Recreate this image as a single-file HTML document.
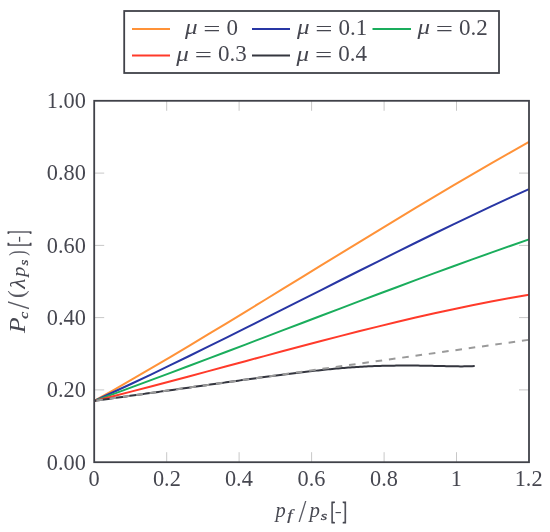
<!DOCTYPE html>
<html><head><meta charset="utf-8"><style>
html,body{margin:0;padding:0;background:#fff;width:550px;height:532px;overflow:hidden}
svg{display:block}
text{font-family:"Liberation Serif",serif;font-size:23px;fill:#464750}
.i{font-style:italic}
</style></head><body>
<svg width="550" height="532" viewBox="0 0 550 532">
<g stroke="#c8c8c8" stroke-width="1">
<line x1="94.2" y1="389.9" x2="104.2" y2="389.9"/>
<line x1="519.0" y1="389.9" x2="529.0" y2="389.9"/>
<line x1="94.2" y1="317.6" x2="104.2" y2="317.6"/>
<line x1="519.0" y1="317.6" x2="529.0" y2="317.6"/>
<line x1="94.2" y1="245.4" x2="104.2" y2="245.4"/>
<line x1="519.0" y1="245.4" x2="529.0" y2="245.4"/>
<line x1="94.2" y1="173.1" x2="104.2" y2="173.1"/>
<line x1="519.0" y1="173.1" x2="529.0" y2="173.1"/>
<line x1="166.7" y1="462.2" x2="166.7" y2="452.2"/>
<line x1="166.7" y1="100.8" x2="166.7" y2="110.8"/>
<line x1="239.1" y1="462.2" x2="239.1" y2="452.2"/>
<line x1="239.1" y1="100.8" x2="239.1" y2="110.8"/>
<line x1="311.6" y1="462.2" x2="311.6" y2="452.2"/>
<line x1="311.6" y1="100.8" x2="311.6" y2="110.8"/>
<line x1="384.1" y1="462.2" x2="384.1" y2="452.2"/>
<line x1="384.1" y1="100.8" x2="384.1" y2="110.8"/>
<line x1="456.5" y1="462.2" x2="456.5" y2="452.2"/>
<line x1="456.5" y1="100.8" x2="456.5" y2="110.8"/>
</g>
<path d="M94.2,400.90 L113.1,390.26 L132.0,379.40 L150.9,368.40 L169.8,357.27 L188.7,346.03 L207.6,334.69 L226.5,323.27 L245.4,311.79 L264.3,300.25 L283.2,288.67 L302.1,277.07 L321.1,265.47 L340.0,253.88 L358.9,242.31 L377.8,230.78 L396.7,219.31 L415.6,207.91 L434.5,196.60 L453.4,185.39 L472.3,174.30 L491.2,163.34 L510.1,152.53 L529.0,141.88" fill="none" stroke="#ff9238" stroke-width="2" stroke-linejoin="round"/>
<path d="M94.2,400.90 L113.1,392.27 L132.0,383.47 L150.9,374.53 L169.8,365.45 L188.7,356.26 L207.6,346.97 L226.5,337.60 L245.4,328.17 L264.3,318.68 L283.2,309.15 L302.1,299.61 L321.1,290.05 L340.0,280.51 L358.9,271.00 L377.8,261.53 L396.7,252.11 L415.6,242.77 L434.5,233.52 L453.4,224.37 L472.3,215.34 L491.2,206.45 L510.1,197.70 L529.0,189.13" fill="none" stroke="#2836a4" stroke-width="2" stroke-linejoin="round"/>
<path d="M94.2,400.90 L113.1,394.07 L132.0,387.15 L150.9,380.17 L169.8,373.13 L188.7,366.05 L207.6,358.92 L226.5,351.76 L245.4,344.58 L264.3,337.38 L283.2,330.17 L302.1,322.96 L321.1,315.76 L340.0,308.58 L358.9,301.42 L377.8,294.29 L396.7,287.20 L415.6,280.17 L434.5,273.18 L453.4,266.27 L472.3,259.42 L491.2,252.66 L510.1,245.98 L529.0,239.41" fill="none" stroke="#1aad5c" stroke-width="2" stroke-linejoin="round"/>
<path d="M94.2,400.90 L113.1,396.22 L132.0,391.40 L150.9,386.49 L169.8,381.51 L188.7,376.47 L207.6,371.40 L226.5,366.30 L245.4,361.19 L264.3,356.10 L283.2,351.02 L302.1,345.99 L321.1,341.02 L340.0,336.12 L358.9,331.32 L377.8,326.61 L396.7,322.04 L415.6,317.59 L434.5,313.31 L453.4,309.19 L472.3,305.27 L491.2,301.54 L510.1,298.03 L529.0,294.76" fill="none" stroke="#ff3a2a" stroke-width="2" stroke-linejoin="round"/>
<path d="M94.2,400.90 L96.2,400.62 L98.2,400.34 L100.2,400.06 L102.2,399.78 L104.2,399.49 L106.2,399.21 L108.2,398.93 L110.2,398.65 L112.2,398.37 L114.2,398.09 L116.2,397.81 L118.2,397.53 L120.2,397.25 L122.2,396.97 L124.2,396.68 L126.2,396.40 L128.2,396.12 L130.2,395.84 L132.2,395.56 L134.2,395.28 L136.2,395.00 L138.2,394.72 L140.2,394.44 L142.2,394.15 L144.2,393.87 L146.2,393.59 L148.2,393.31 L150.2,393.03 L152.2,392.75 L154.2,392.47 L156.2,392.19 L158.2,391.91 L160.2,391.63 L162.2,391.34 L164.2,391.06 L166.2,390.78 L168.2,390.50 L170.2,390.22 L172.2,389.94 L174.2,389.66 L176.2,389.38 L178.2,389.10 L180.2,388.81 L182.2,388.53 L184.2,388.25 L186.2,387.97 L188.2,387.69 L190.2,387.41 L192.2,387.13 L194.2,386.85 L196.2,386.57 L198.2,386.29 L200.2,386.00 L202.2,385.72 L204.2,385.44 L206.2,385.16 L208.2,384.88 L210.2,384.60 L212.2,384.32 L214.2,384.04 L216.2,383.76 L218.2,383.47 L220.2,383.19 L222.2,382.91 L224.2,382.63 L226.2,382.35 L228.2,382.07 L230.2,381.79 L232.2,381.51 L234.2,381.23 L236.2,380.95 L238.2,380.66 L240.2,380.38 L242.2,380.10 L244.2,379.82 L246.2,379.54 L248.2,379.26 L250.2,378.98 L252.2,378.70 L254.2,378.42 L256.2,378.14 L258.2,377.85 L260.2,377.57 L262.2,377.29 L264.2,377.01 L266.2,376.77 L268.2,376.51 L270.2,376.24 L272.2,375.98 L274.2,375.72 L276.2,375.46 L278.2,375.20 L280.2,374.95 L282.2,374.69 L284.2,374.44 L286.2,374.19 L288.2,373.94 L290.2,373.69 L292.2,373.44 L294.2,373.20 L296.2,372.96 L298.2,372.71 L300.2,372.47 L302.2,372.24 L304.2,372.00 L306.2,371.77 L308.2,371.53 L310.2,371.30 L312.2,371.08 L314.2,370.85 L316.2,370.63 L318.2,370.41 L320.2,370.20 L322.2,369.99 L324.2,369.78 L326.2,369.57 L328.2,369.37 L330.2,369.17 L332.2,368.98 L334.2,368.79 L336.2,368.61 L338.2,368.43 L340.2,368.25 L342.2,368.08 L344.2,367.92 L346.2,367.76 L348.2,367.60 L350.2,367.45 L352.2,367.31 L354.2,367.17 L356.2,367.04 L358.2,366.91 L360.2,366.79 L362.2,366.68 L364.2,366.57 L366.2,366.47 L368.2,366.37 L370.2,366.28 L372.2,366.20 L374.2,366.12 L376.2,366.05 L378.2,365.98 L380.2,365.92 L382.2,365.86 L384.2,365.81 L386.2,365.77 L388.2,365.72 L390.2,365.69 L392.2,365.66 L394.2,365.63 L396.2,365.61 L398.2,365.59 L400.2,365.57 L402.2,365.56 L404.2,365.56 L406.2,365.56 L408.2,365.56 L410.2,365.56 L412.2,365.57 L414.2,365.58 L416.2,365.60 L418.2,365.62 L420.2,365.64 L422.2,365.67 L424.2,365.70 L426.2,365.73 L428.2,365.76 L430.2,365.80 L432.2,365.84 L434.2,365.88 L436.2,365.92 L438.2,365.97 L440.2,366.01 L442.2,366.06 L444.2,366.11 L446.2,366.16 L448.2,366.21 L450.2,366.25 L452.2,366.29 L454.2,366.33 L456.2,366.36 L458.2,366.37 L460.2,366.38 L462.2,366.38 L464.2,366.37 L466.2,366.34 L468.2,366.30 L470.2,366.25 L472.2,366.17 L474.2,366.08 L474.7,366.06" fill="none" stroke="#34363f" stroke-width="2" stroke-linejoin="round"/>
<line x1="94.2" y1="400.9" x2="529.0" y2="339.8" stroke="#9a9a9a" stroke-width="2" stroke-dasharray="6.6 6.83" stroke-dashoffset="11.28"/>
<rect x="94.2" y="100.8" width="434.8" height="361.4" fill="none" stroke="#404249" stroke-width="1.8"/>
<text transform="translate(46.81,469.50) scale(0.970,1.020)">0.00</text>
<text transform="translate(46.81,397.22) scale(0.970,1.020)">0.20</text>
<text transform="translate(46.81,324.94) scale(0.970,1.020)">0.40</text>
<text transform="translate(46.81,252.66) scale(0.970,1.020)">0.60</text>
<text transform="translate(46.81,180.38) scale(0.970,1.020)">0.80</text>
<text transform="translate(46.81,108.10) scale(0.970,1.020)">1.00</text>
<text transform="translate(88.62,485.70) scale(0.970,1.020)">0</text>
<text transform="translate(152.91,485.70) scale(0.970,1.020)">0.2</text>
<text transform="translate(224.94,485.70) scale(0.970,1.020)">0.4</text>
<text transform="translate(297.56,485.70) scale(0.970,1.020)">0.6</text>
<text transform="translate(370.12,485.70) scale(0.970,1.020)">0.8</text>
<text transform="translate(450.65,485.70) scale(0.970,1.020)">1</text>
<text transform="translate(514.69,485.70) scale(0.970,1.020)">1.2</text>
<text transform="translate(275.60,517.27) scale(0.889,0.883)" class="i">p</text>
<text transform="translate(287.29,520.38) scale(1.179,0.886)" class="i" style="font-size:16px;stroke:#464750;stroke-width:0.25px">f</text>
<text transform="translate(298.40,522.39) scale(1.236,1.391)" style="fill:#5a5b64">/</text>
<text transform="translate(309.52,517.25) scale(0.905,0.909)" class="i">p</text>
<text transform="translate(320.70,519.98) scale(1.046,0.741)" class="i" style="font-size:16px;stroke:#464750;stroke-width:0.35px">s</text>
<text transform="translate(330.63,519.16) scale(0.566,1.119)" style="stroke:#464750;stroke-width:0.9px">[</text>
<text transform="translate(334.86,516.17) scale(0.921,0.640)">-</text>
<text transform="translate(342.53,519.16) scale(0.566,1.119)" style="stroke:#464750;stroke-width:0.9px">]</text>
<g transform="translate(25.4,0) rotate(-90)">
<text transform="translate(-332.96,-0.50) scale(1.119,1.003)" class="i">P</text>
<text transform="translate(-318.78,2.19) scale(0.979,0.715)" class="i" style="font-size:16px;stroke:#464750;stroke-width:0.4px">c</text>
<text transform="translate(-309.20,3.89) scale(1.236,1.371)" style="fill:#5a5b64">/</text>
<text transform="translate(-297.93,-0.91) scale(1.016,1.002)" style="fill:#5a5b64">(</text>
<text transform="translate(-288.72,-0.60) scale(1.025,0.920)" class="i">λ</text>
<text transform="translate(-276.71,-0.38) scale(0.881,0.814)" class="i">p</text>
<text transform="translate(-265.38,2.57) scale(0.919,0.832)" class="i" style="font-size:16px;stroke:#464750;stroke-width:0.35px">s</text>
<text transform="translate(-255.71,-0.12) scale(0.694,1.045)" style="fill:#5a5b64">)</text>
<text transform="translate(-246.30,1.44) scale(0.469,1.156)" style="stroke:#464750;stroke-width:0.9px">[</text>
<text transform="translate(-242.46,-1.77) scale(0.837,0.698)">-</text>
<text transform="translate(-233.94,1.44) scale(0.410,1.156)" style="stroke:#464750;stroke-width:0.9px">]</text>
</g>
<rect x="124.2" y="11" width="374.8" height="62.0" fill="none" stroke="#404249" stroke-width="1.8"/>
<g stroke-width="2">
<line x1="132" y1="28.9" x2="170" y2="28.9" stroke="#ff9238"/>
<line x1="252" y1="28.9" x2="290" y2="28.9" stroke="#2836a4"/>
<line x1="372.5" y1="28.9" x2="411" y2="28.9" stroke="#1aad5c"/>
<line x1="132" y1="55.4" x2="170" y2="55.4" stroke="#ff3a2a"/>
<line x1="252" y1="55.4" x2="290" y2="55.4" stroke="#34363f"/>
</g>
<text transform="translate(184.92,34.11) scale(1.092,0.872)" class="i">μ</text>
<text transform="translate(203.33,35.64) scale(1.327,0.922)">=</text>
<text x="226.62" y="34.60">0</text>
<text transform="translate(296.92,34.11) scale(1.092,0.872)" class="i">μ</text>
<text transform="translate(315.33,35.64) scale(1.327,0.922)">=</text>
<text x="338.62" y="34.60">0.1</text>
<text transform="translate(417.42,34.11) scale(1.092,0.872)" class="i">μ</text>
<text transform="translate(435.83,35.64) scale(1.327,0.922)">=</text>
<text x="459.12" y="34.60">0.2</text>
<text transform="translate(176.32,60.51) scale(1.092,0.872)" class="i">μ</text>
<text transform="translate(194.73,62.04) scale(1.327,0.922)">=</text>
<text x="218.02" y="61.00">0.3</text>
<text transform="translate(296.62,60.51) scale(1.092,0.872)" class="i">μ</text>
<text transform="translate(315.03,62.04) scale(1.327,0.922)">=</text>
<text x="338.32" y="61.00">0.4</text>
</svg>
</body></html>
